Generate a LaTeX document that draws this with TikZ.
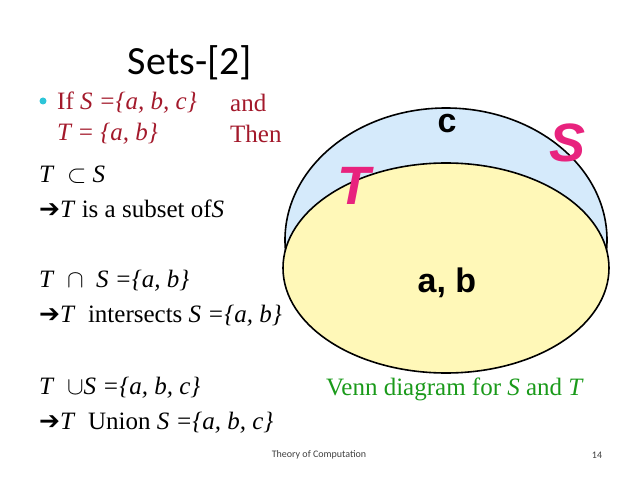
\documentclass[tikz,border=0pt]{standalone}
\usepackage{fontspec}
\setmainfont{Liberation Serif}
\newfontfamily\sansf{Carlito}
\newfontfamily\arialf{Liberation Sans}
\newfontfamily\dejaf{DejaVu Sans}
\definecolor{darkred}{HTML}{A3192B}
\definecolor{bluefill}{HTML}{D5EAFB}
\definecolor{yelfill}{HTML}{FFF8B8}
\definecolor{pinkm}{HTML}{E8237E}
\definecolor{greent}{HTML}{1A9A1A}
\definecolor{cyanb}{HTML}{2DC5D8}
\newcommand{\arr}{{\dejaf\bfseries ➔}}
\begin{document}
\begin{tikzpicture}[x=1pt,y=-1pt,
  txt/.style={anchor=west,inner sep=0pt,font=\fontsize{25}{28}\selectfont},
  lab/.style={inner sep=0pt,font=\arialf\bfseries\fontsize{34}{38}\selectfont}]
\useasboundingbox (0,0) rectangle (638,478);
\node[inner sep=0pt,font=\sansf\fontsize{40}{44}\selectfont] (title) at (190,63) {Sets-[2]};
\fill[cyanb] (43,101) circle (3.5);
\node[txt,text=darkred] (l1) at (57,103) {If \textit{S =\{a, b, c\}}};
\node[txt,text=darkred] (l1b) at (230,103) {and};
\node[txt,text=darkred] (l2) at (57,134) {\textit{T = \{a, b\}}};
\node[txt,text=darkred] (l2b) at (230,134) {Then};
\node[txt] (l3) at (39,175) {\textit{T} \ $\subset$ \textit{S}};
\node[txt] (l4) at (39,209) {\arr\textit{T} is a subset of\textit{S}};
\node[txt] (l5) at (39,281) {\textit{T} \ $\cap$ \ \textit{S =\{a, b\}}};
\node[txt] (l6) at (39,316) {\arr\textit{T} \ intersects \textit{S =\{a, b\}}};
\node[txt] (l7) at (39,388) {\textit{T} \ $\cup$\textit{S =\{a, b, c\}}};
\node[txt] (l8) at (39,423) {\arr\textit{T} \ Union \textit{S =\{a, b, c\}}};
\draw[line width=1.6pt,fill=bluefill] (446,240) ellipse (161 and 132);
\draw[line width=1.6pt,fill=yelfill] (446,268) ellipse (163 and 105);
\node[lab] (c) at (447,124) {c};
\node[lab] (ab) at (447,283) {a, b};
\node[inner sep=0pt,text=pinkm,font=\arialf\bfseries\itshape\fontsize{54}{58}\selectfont] (S) at (568,143) {S};
\node[inner sep=0pt,text=pinkm,font=\arialf\bfseries\itshape\fontsize{54}{58}\selectfont] (T) at (354,186) {T};
\node[txt,anchor=center,text=greent] (venn) at (455,389) {Venn diagram for \textit{S} and \textit{T}};
\node[inner sep=0pt,font=\sansf\fontsize{10}{12}\selectfont,text=black!75] (foot) at (319,455) {Theory of Computation};
\node[inner sep=0pt,font=\sansf\fontsize{10}{12}\selectfont,text=black!75] (num) at (597,455) {14};
\end{tikzpicture}
\end{document}
